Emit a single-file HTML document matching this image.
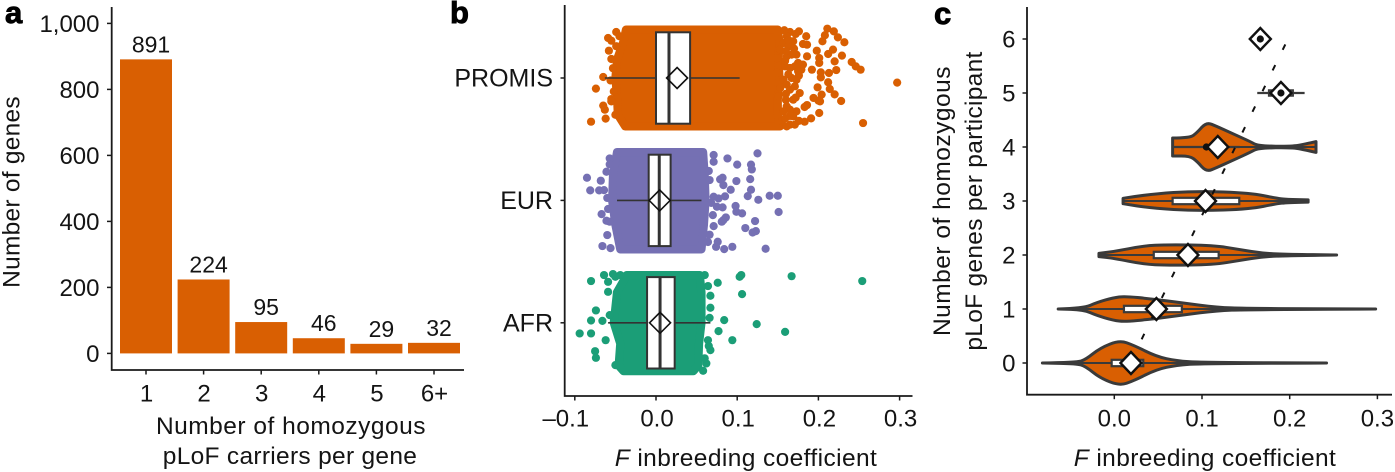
<!DOCTYPE html>
<html lang="en">
<head>
<meta charset="utf-8">
<title>Homozygous pLoF genes and F inbreeding coefficient</title>
<style>
  html, body { margin: 0; padding: 0; background: #fff; }
  svg { display: block; }
  text { font-family: "Liberation Sans", sans-serif; fill: #141414; }
  .tick { font-size: 24px; }
  .cohort { font-size: 25px; }
  .title { font-size: 24.5px; }
  .letter { font-size: 31px; font-weight: bold; fill: #000; stroke: #000; stroke-width: 0.9px; }
</style>
</head>
<body>
<svg id="figure" width="1395" height="472" viewBox="0 0 1395 472" xmlns="http://www.w3.org/2000/svg">
  <rect x="0" y="0" width="1395" height="472" fill="#ffffff"/>
  <g id="panel-a"></g>
  <g id="panel-b"></g>
  <g id="panel-c"></g>

  <text class="letter" x="5" y="23">a</text>
  <text class="letter" x="450" y="23">b</text>
  <text class="letter" x="934" y="24">c</text>

  <text class="title" text-anchor="middle" letter-spacing="0.25" transform="translate(19.5 192) rotate(-90)">Number of genes</text>
  <text class="title" text-anchor="middle" letter-spacing="0.5" x="291" y="434">Number of homozygous</text>
  <text class="title" text-anchor="middle" letter-spacing="0.3" x="290" y="464">pLoF carriers per gene</text>

  <text class="title" text-anchor="middle" letter-spacing="0.4" x="746" y="466"><tspan font-style="italic">F</tspan> inbreeding coefficient</text>

  <text class="title" text-anchor="middle" letter-spacing="0.5" transform="translate(950 201) rotate(-90)">Number of homozygous</text>
  <text class="title" text-anchor="middle" letter-spacing="0.3" transform="translate(982 201) rotate(-90)">pLoF genes per participant</text>
  <text class="title" text-anchor="middle" letter-spacing="0.4" x="1205" y="466"><tspan font-style="italic">F</tspan> inbreeding coefficient</text>
</svg>

<script>
// ---------- Panel a data ----------
const carrierCategories = ['1', '2', '3', '4', '5', '6+'];
const geneCounts = [891, 224, 95, 46, 29, 32];
const geneCountTicks = [0, 200, 400, 600, 800, 1000];
const geneCountTickLabels = ['0', '200', '400', '600', '800', '1,000'];

// ---------- Panel b data ----------
const cohortLabels = ['AFR', 'EUR', 'PROMIS'];
const inbreedingTicks = [-0.1, 0, 0.1, 0.2, 0.3];
const inbreedingTickLabels = ['–0.1', '0.0', '0.1', '0.2', '0.3'];

// Box summaries: [whisker low, Q1, median, Q3, whisker high, mean]
const afrSummary = [-0.059, -0.011, 0.005, 0.023, 0.067, 0.005];
const eurSummary = [-0.048, -0.009, 0.004, 0.018, 0.056, 0.0045];
const promisSummary = [-0.063, 0, 0.016, 0.042, 0.103, 0.026];

// Envelope of the saturated point cloud: [jitter, lowest F, highest F]
const afrCloud = [[-0.39, -0.036, 0.054], [-0.25, -0.048, 0.056], [0, -0.052, 0.056], [0.17, -0.044, 0.053], [0.35, -0.046, 0.052], [0.395, -0.04, 0.046]];
const eurCloud = [[-0.395, -0.048, 0.058], [-0.2, -0.053, 0.06], [0, -0.054, 0.061], [0.2, -0.05, 0.059], [0.4, -0.044, 0.056]];
const promisCloud = [[-0.395, -0.037, 0.15], [-0.3, -0.04, 0.152], [-0.15, -0.048, 0.151], [0, -0.05, 0.152], [0.15, -0.048, 0.15], [0.3, -0.047, 0.15], [0.395, -0.038, 0.153]];

// Individually visible points: [F, jitter]
const afrPoints = [[0.254,-0.341],[0.167,-0.381],[0.105,-0.39],[0.103,-0.376],[0.106,-0.234],[0.076,-0.327],[0.067,-0.221],[0.067,-0.123],[0.084,-0.022],[0.124,0.011],[0.159,0.074],[0.094,0.142],[0.077,0.068],[0.067,0.223],[0.064,0.142],[0.062,0.332],[0.058,0.392],[-0.094,0.087],[-0.08,0.087],[-0.08,-0.019],[-0.074,-0.101],[-0.066,-0.016],[-0.08,-0.341],[-0.064,-0.39],[-0.059,-0.335],[-0.075,0.232],[-0.074,0.286],[-0.062,0.142],[-0.059,-0.253],[-0.05,-0.376],[-0.044,-0.39],[-0.053,-0.398],[-0.05,0.346],[-0.057,-0.063],[0.06,-0.39],[0.064,-0.3],[0.066,-0.04],[0.065,0.19],[0.06,0.29]];
const eurPoints = [[-0.085,-0.185],[-0.068,-0.161],[-0.081,-0.082],[-0.07,-0.082],[-0.064,-0.084],[-0.067,0.112],[-0.066,0.373],[-0.056,0.39],[-0.06,0.283],[-0.061,0.166],[-0.057,0.174],[-0.057,-0.343],[-0.057,-0.294],[-0.061,-0.234],[0.125,-0.384],[0.088,-0.343],[0.1,-0.292],[0.117,-0.292],[0.118,-0.253],[0.116,-0.174],[0.099,-0.158],[0.082,-0.185],[0.083,-0.125],[0.079,-0.172],[0.092,-0.087],[0.117,-0.087],[0.113,-0.035],[0.085,-0.033],[0.126,-0.005],[0.14,-0.038],[0.15,-0.038],[0.151,0.095],[0.098,0.046],[0.099,0.093],[0.106,0.106],[0.122,0.169],[0.11,0.226],[0.123,0.251],[0.119,0.262],[0.135,0.395],[0.094,0.379],[0.084,0.398],[0.074,0.379],[0.076,0.338],[0.083,0.161],[0.086,0.139],[0.081,0.174],[0.071,0.21],[0.075,0.052],[0.082,0.057],[0.077,-0.016],[0.071,-0.03],[0.071,-0.371],[0.071,-0.316],[0.066,-0.166],[0.068,0.02],[0.07,0.12],[0.066,0.28],[0.064,0.34],[0.065,-0.24],[-0.06,-0.02],[-0.059,0.07]];
const promisPoints = [[0.297,0.038],[0.255,0.368],[-0.08,0.357],[-0.074,0.087],[-0.062,0.332],[-0.065,0.226],[-0.063,0.259],[-0.055,0.172],[-0.055,0.191],[-0.065,-0.008],[-0.059,-0.327],[-0.055,-0.305],[-0.049,-0.376],[-0.045,-0.341],[-0.058,-0.223],[-0.055,-0.155],[0.228,0.188],[0.22,0.134],[0.214,0.09],[0.212,0.035],[0.204,0.136],[0.2,0.185],[0.194,0.163],[0.202,0.191],[0.199,0.076],[0.201,0.286],[0.191,0.33],[0.183,0.357],[0.186,0.221],[0.183,0.237],[0.252,-0.068],[0.246,-0.095],[0.241,-0.131],[0.222,-0.065],[0.22,-0.136],[0.229,-0.183],[0.213,-0.041],[0.203,-0.005],[0.203,-0.046],[0.212,-0.196],[0.218,-0.232],[0.198,-0.223],[0.201,-0.163],[0.201,-0.123],[0.186,-0.177],[0.186,-0.272],[0.181,-0.278],[0.232,-0.292],[0.224,-0.332],[0.219,-0.381],[0.211,-0.403],[0.208,-0.349],[0.205,-0.3],[0.185,-0.341],[0.192,-0.068],[0.179,-0.068],[0.181,-0.109],[0.175,-0.123],[0.176,-0.381],[0.165,-0.376],[0.161,-0.341],[0.169,-0.3],[0.157,-0.286],[0.163,-0.259],[0.153,-0.232],[0.173,-0.191],[0.161,-0.177],[0.167,-0.191],[0.149,-0.163],[0.171,-0.095],[0.165,-0.082],[0.159,-0.095],[0.175,-0.054],[0.167,0],[0.173,0.014],[0.157,0.014],[0.161,0.054],[0.171,0.068],[0.165,0.095],[0.177,0.123],[0.169,0.177],[0.161,0.232],[0.173,0.272],[0.165,0.259],[0.157,0.272],[0.169,0.313],[0.155,0.354],[0.165,0.381],[0.171,0.381],[0.161,0.395],[0.151,0.15],[0.153,0.082],[0.149,-0.041],[0.158,-0.39],[0.163,-0.31],[0.16,-0.22],[0.159,-0.14],[0.163,-0.03],[0.16,0.13],[0.16,0.18],[0.165,0.31],[0.159,0.33],[0.172,-0.36],[0.17,-0.24],[0.176,-0.02],[0.172,0.16],[0.176,0.35],[-0.056,0.02],[-0.053,-0.08],[-0.052,0.11],[-0.05,0.3],[-0.049,-0.26]];

// ---------- Panel c data ----------
const participantLevels = [0, 1, 2, 3, 4, 5, 6];
const violinTicks = [0, 0.1, 0.2, 0.3];
const violinTickLabels = ['0.0', '0.1', '0.2', '0.3'];

// Violin density profiles: [F, half-width in lane units]
const violin0 = [[-0.082,0],[-0.043,0.012],[-0.033,0.06],[-0.016,0.28],[0.006,0.42],[0.022,0.33],[0.048,0.12],[0.071,0.04],[0.098,0.01],[0.242,0]];
const violin1 = [[-0.064,0],[-0.035,0.015],[-0.02,0.12],[-0.001,0.21],[0.012,0.235],[0.041,0.19],[0.079,0.11],[0.117,0.03],[0.151,0.01],[0.298,0]];
const violin2 = [[-0.0175,0.03],[-0.001,0.06],[0.033,0.17],[0.06,0.19],[0.113,0.18],[0.143,0.1],[0.17,0.03],[0.2,0.012],[0.2535,0]];
const violin3 = [[0.01,0.05],[0.041,0.13],[0.094,0.185],[0.155,0.15],[0.185,0.05],[0.197,0.03],[0.221,0.02]];
const violin4 = [[0.0665,0.167],[0.086,0.167],[0.094,0.26],[0.105,0.46],[0.117,0.38],[0.136,0.24],[0.155,0.1],[0.164,0.02],[0.204,0.01],[0.219,0.06],[0.23,0.1]];
const violinProfiles = [violin0, violin1, violin2, violin3, violin4];

// Q1, Q3 per level (null when no white box is drawn)
const violinBoxes = [[-0.003,0.033],[0.011,0.077],[0.045,0.119],[0.0665,0.1425],null,null,null];
const violinWhiskers = [null,null,null,null,[0.0665,0.143],[0.163,0.217],null];
const smallBoxes = [null,null,null,null,null,[0.176,0.204],null];
const violinMedians = [0.012, 0.041, 0.077, 0.101, 0.105, 0.19, 0.1665];
const violinMeans = [0.019, 0.048, 0.084, 0.104, 0.118, 0.19, 0.1665];

// Dashed regression of F on homozygous pLoF gene count
const trendIntercept = 0.018;
const trendSlope = 0.03;
const trendLevelRange = [0, 5.9];

// ---------- Helpers ----------
const NS = 'http://www.w3.org/2000/svg';
function make(tag, attrs, parent) {
  const node = document.createElementNS(NS, tag);
  for (const key in attrs) node.setAttribute(key, attrs[key]);
  parent.appendChild(node);
  return node;
}
const INK = '#1a1a1a';
const DARK = '#333333';
const ORANGE = '#d95f02';
const PURPLE = '#7570b3';
const GREEN = '#1b9e77';

// ---------- Panel a ----------
const panelA = document.getElementById('panel-a');
const aY = v => 353.4 - v * 0.33;
const aX = i => 146 + i * 57.6;
geneCounts.forEach((value, i) => {
  const bar = make('rect', { x: aX(i) - 26, y: aY(value), width: 52, height: aY(0) - aY(value), fill: ORANGE }, panelA);
  
  
  const label = make('text', { x: aX(i) + 5, y: aY(value) - 7, 'text-anchor': 'middle', 'font-size': 23 }, panelA);
  
  
  label.textContent = String(value);
  const tick = make('line', { x1: aX(i), x2: aX(i), y1: 370, y2: 374.5, stroke: INK, 'stroke-width': 1.5 }, panelA);
  
  
  const tickLabel = make('text', { x: aX(i) + 0.5, y: 401.5, 'text-anchor': 'middle', class: 'tick' }, panelA);
  
  
  tickLabel.textContent = carrierCategories[i];
});
geneCountTicks.forEach((value, i) => {
  const tick = make('line', { x1: 107, x2: 111.5, y1: aY(value), y2: aY(value), stroke: INK, 'stroke-width': 1.5 }, panelA);
  
  
  const tickLabel = make('text', { x: 99.5, y: aY(value) + 8.5, 'text-anchor': 'end', class: 'tick' }, panelA);
  
  
  tickLabel.textContent = geneCountTickLabels[i];
});
const axisA = make('path', { d: 'M111.7 7V370H464', fill: 'none', stroke: INK, 'stroke-width': 1.8 }, panelA);



// ---------- Panel b ----------
const panelB = document.getElementById('panel-b');
const bX = f => 656 + f * 812;
const laneY = lane => 322.8 - lane * 122.4;
const POINT_R = 4.1;

function drawCohort(lane, color, cloud, points, summary, key) {
  const group = make('g', {}, panelB);
  
  
  const pts = [];
  cloud.forEach(row => pts.push(bX(row[1]) + ',' + (laneY(lane) + row[0] * 122.4)));
  cloud.slice().reverse().forEach(row => pts.push(bX(row[2]) + ',' + (laneY(lane) + row[0] * 122.4)));
  const mass = make('polygon', { points: pts.join(' '), fill: color, stroke: color, 'stroke-width': POINT_R * 2, 'stroke-linejoin': 'round' }, group);
  
  
  points.forEach(p => {
    const dot = make('circle', { cx: bX(p[0]), cy: laneY(lane) + p[1] * 122.4, r: POINT_R, fill: color }, group);
    
    
  });
  const cy = laneY(lane);
  const box = make('rect', { x: bX(summary[1]), y: cy - 45.7, width: bX(summary[3]) - bX(summary[1]), height: 91.4, fill: '#ffffff', stroke: DARK, 'stroke-width': 2 }, group);
  
  
  const whiskerLow = make('line', { x1: bX(summary[0]), x2: bX(summary[1]), y1: cy, y2: cy, stroke: DARK, 'stroke-width': 1.6 }, group);
  
  
  const whiskerHigh = make('line', { x1: bX(summary[3]), x2: bX(summary[4]), y1: cy, y2: cy, stroke: DARK, 'stroke-width': 1.6 }, group);
  
  
  const median = make('line', { x1: bX(summary[2]), x2: bX(summary[2]), y1: cy - 45.7, y2: cy + 45.7, stroke: DARK, 'stroke-width': 3 }, group);
  
  
  const mx = bX(summary[5]);
  const diamond = make('polygon', { points: [mx - 10.5, cy, mx, cy - 10.5, mx + 10.5, cy, mx, cy + 10.5].join(' '), fill: 'none', stroke: '#111', 'stroke-width': 1.6 }, group);
  
  
}
drawCohort(2, ORANGE, promisCloud, promisPoints, promisSummary, 'promis');
drawCohort(1, PURPLE, eurCloud, eurPoints, eurSummary, 'eur');
drawCohort(0, GREEN, afrCloud, afrPoints, afrSummary, 'afr');

cohortLabels.forEach((name, lane) => {
  const tick = make('line', { x1: 560.5, x2: 565, y1: laneY(lane), y2: laneY(lane), stroke: INK, 'stroke-width': 1.5 }, panelB);
  
  
  const label = make('text', { x: 553, y: laneY(lane) + 8.5, 'text-anchor': 'end', class: 'cohort' }, panelB);
  
  
  label.textContent = name;
});
inbreedingTicks.forEach((value, i) => {
  const tick = make('line', { x1: bX(value), x2: bX(value), y1: 396, y2: 400.5, stroke: INK, 'stroke-width': 1.5 }, panelB);
  
  
  const shift = inbreedingTickLabels[i].charAt(0) === '–' ? -9 : 1;
  const label = make('text', { x: bX(value) + shift, y: 426.5, 'text-anchor': 'middle', class: 'tick' }, panelB);
  
  
  label.textContent = inbreedingTickLabels[i];
});
const axisB = make('path', { d: 'M564.7 5V396H912.5', fill: 'none', stroke: INK, 'stroke-width': 1.8 }, panelB);



// ---------- Panel c ----------
const panelC = document.getElementById('panel-c');
const cX = f => 1114.3 + f * 877;
const cY = lane => 363 - lane * 54;

function sideSegments(list) {
  let d = '';
  for (let i = 1; i < list.length - 1; i++) {
    const mx = (list[i][0] + list[i + 1][0]) / 2;
    const my = (list[i][1] + list[i + 1][1]) / 2;
    d += 'Q' + list[i][0] + ' ' + list[i][1] + ' ' + mx + ' ' + my;
  }
  const last = list[list.length - 1];
  d += 'L' + last[0] + ' ' + last[1];
  return d;
}
violinProfiles.forEach((profile, level) => {
  const cy = cY(level);
  const top = profile.map(p => [cX(p[0]), cy - p[1] * 54]);
  const bottom = profile.map(p => [cX(p[0]), cy + p[1] * 54]).reverse();
  const d = 'M' + top[0][0] + ' ' + top[0][1] + sideSegments(top) + 'L' + bottom[0][0] + ' ' + bottom[0][1] + sideSegments(bottom) + 'Z';
  const shape = make('path', { d: d, fill: ORANGE, stroke: '#3a3a3a', 'stroke-width': 3, 'stroke-linejoin': 'round' }, panelC);
  
  
  const mid = make('line', { x1: cX(profile[0][0]), x2: cX(profile[profile.length - 1][0]), y1: cy, y2: cy, stroke: '#3a3a3a', 'stroke-width': 2 }, panelC);
  
  
});
violinBoxes.forEach((range, level) => {
  if (!range) return;
  const box = make('rect', { x: cX(range[0]), y: cY(level) - 3.2, width: cX(range[1]) - cX(range[0]), height: 6.4, fill: '#ffffff', stroke: '#3a3a3a', 'stroke-width': 2.2 }, panelC);
  
  
});
violinWhiskers.forEach((range, level) => {
  if (!range) return;
  const whisker = make('line', { x1: cX(range[0]), x2: cX(range[1]), y1: cY(level), y2: cY(level), stroke: '#3a3a3a', 'stroke-width': 2.2 }, panelC);
  
  
});
smallBoxes.forEach((range, level) => {
  if (!range) return;
  const box = make('rect', { x: cX(range[0]), y: cY(level) - 3, width: cX(range[1]) - cX(range[0]), height: 6, fill: '#4a4a4a', stroke: '#3a3a3a', 'stroke-width': 1.5 }, panelC);
  
  
});

const trend = make('line', {
  x1: cX(trendIntercept + trendSlope * trendLevelRange[1]), y1: cY(trendLevelRange[1]),
  x2: cX(trendIntercept + trendSlope * trendLevelRange[0]), y2: cY(trendLevelRange[0]),
  stroke: '#111', 'stroke-width': 2, 'stroke-dasharray': '6 17'
}, panelC);



participantLevels.forEach(level => {
  const cy = cY(level);
  const mx = cX(violinMeans[level]);
  const diamond = make('polygon', { points: [mx - 10.5, cy, mx, cy - 11, mx + 10.5, cy, mx, cy + 11].join(' '), fill: '#ffffff', stroke: '#111', 'stroke-width': 2.4 }, panelC);
  const dot = make('circle', { cx: cX(violinMedians[level]), cy: cy, r: 3.6, fill: '#111' }, panelC);
  if (violinMedians[level] < violinMeans[level]) {
    panelC.insertBefore(dot, diamond);
  }
  
  
  
  
  const tick = make('line', { x1: 1022.5, x2: 1027, y1: cy, y2: cy, stroke: INK, 'stroke-width': 1.5 }, panelC);
  
  
  const label = make('text', { x: 1015.5, y: cy + 8.5, 'text-anchor': 'end', class: 'tick' }, panelC);
  
  
  label.textContent = String(level);
});
violinTicks.forEach((value, i) => {
  const tick = make('line', { x1: cX(value), x2: cX(value), y1: 394.7, y2: 399.2, stroke: INK, 'stroke-width': 1.5 }, panelC);
  
  
  const label = make('text', { x: cX(value), y: 426.5, 'text-anchor': 'middle', class: 'tick' }, panelC);
  
  
  label.textContent = violinTickLabels[i];
});
const axisC = make('path', { d: 'M1027 7V394.7H1392', fill: 'none', stroke: INK, 'stroke-width': 1.8 }, panelC);


</script>
</body>
</html>
